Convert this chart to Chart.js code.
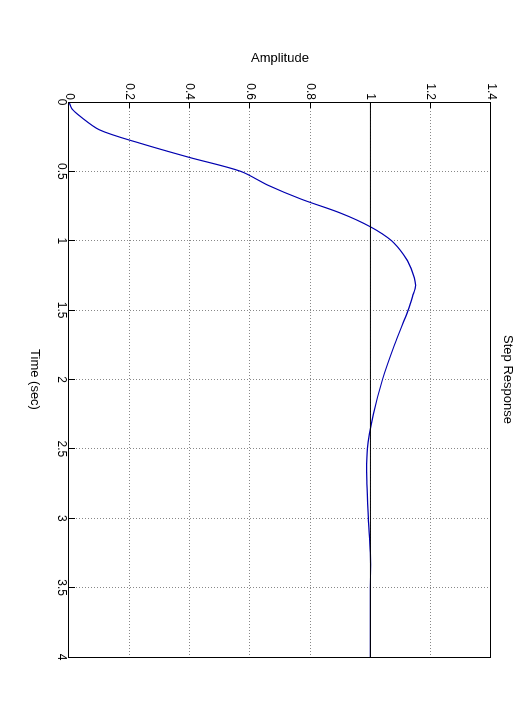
<!DOCTYPE html>
<html><head><meta charset="utf-8">
<script src="https://cdn.jsdelivr.net/npm/chart.js@4"></script>
<style>body{margin:0;background:#fff;overflow:hidden;width:523px;height:720px}
#w{position:absolute;left:523px;top:0;width:720px;height:523px;transform-origin:0 0;transform:rotate(90deg)}</style>
</head><body><div id="w"><canvas id="c" width="720" height="523"></canvas></div>
<script>
const timeSec=[0,0.05,0.1,0.2,0.3,0.4,0.5,0.6,0.7,0.8,0.9,1.0,1.1,1.2,1.32,1.4,1.5,1.75,2.0,2.25,2.5,2.75,3.0,3.25,3.5,3.75,4.0];
const amplitude=[0,0.01,0.035,0.1,0.24,0.4,0.57,0.66,0.77,0.9,1.0,1.07,1.11,1.135,1.15,1.14,1.125,1.08,1.04,1.01,0.99,0.988,0.993,1.0,1.0,1.0,1.0];
const refLine=[1,1];
const refTime=[0,4];
const titleText='Step Response', xLabel='Time (sec)', yLabel='Amplitude';
const F='"Liberation Sans", Arial, sans-serif';
const texts={id:'t',afterDraw(ch){const c=ch.ctx,a=ch.chartArea;c.save();c.fillStyle='#000';c.font='13px '+F;c.textAlign='center';c.textBaseline='middle';
c.fillText(titleText,(a.left+a.right)/2,15);c.fillText(xLabel,(a.left+a.right)/2,488);
c.save();c.translate(58,(a.top+a.bottom)/2);c.rotate(-Math.PI/2);c.fillText(yLabel,0,0);c.restore();
c.strokeStyle='#000';c.lineWidth=1;c.strokeRect(a.left+.5,a.top+.5,a.right-a.left,a.bottom-a.top);c.restore();}};
new Chart(document.getElementById('c'),{type:'scatter',
data:{datasets:[
{data:refTime.map((t,i)=>({x:t,y:refLine[i]})),showLine:true,borderColor:'#000',borderWidth:1,pointRadius:0},
{data:timeSec.map((t,i)=>({x:t,y:amplitude[i]})),showLine:true,borderColor:'#0000b0',borderWidth:1.2,pointRadius:0,tension:0.3}]},
options:{responsive:false,animation:false,events:[],layout:{padding:{left:30,right:63,top:32,bottom:30}},
plugins:{legend:{display:false},tooltip:{enabled:false}},
scales:{
x:{type:'linear',min:0,max:4,afterFit(s){s.height=39},ticks:{stepSize:0.5,color:'#000',font:{family:F,size:12},maxRotation:0,padding:6,callback:v=>String(+v.toFixed(1))},
grid:{color:'#888',tickLength:-6,drawTicks:true,tickColor:'#000'},border:{display:false,dash:[1,2]}},
y:{min:0,max:1.4,afterFit(s){s.width=72},ticks:{stepSize:0.2,color:'#000',font:{family:F,size:12},padding:8,callback:v=>String(+v.toFixed(1))},
grid:{color:'#888',tickLength:-6,tickColor:'#000'},border:{display:false,dash:[1,2]}}}},
plugins:[texts]});
</script></body></html>
